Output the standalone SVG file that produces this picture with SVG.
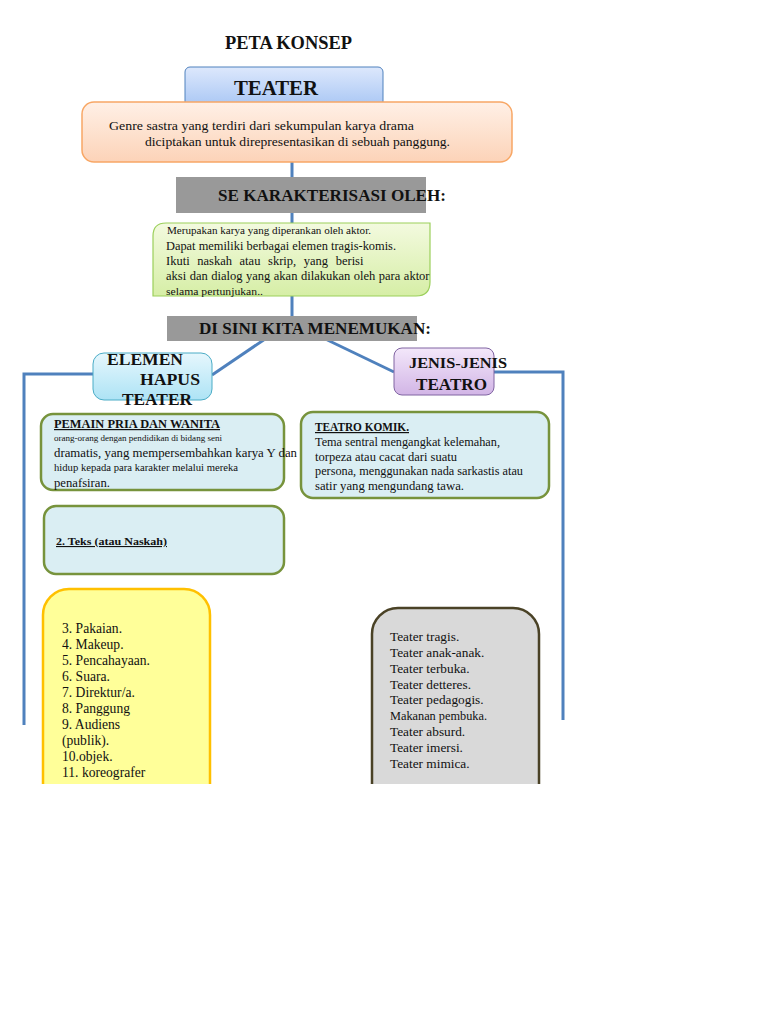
<svg xmlns="http://www.w3.org/2000/svg" width="768" height="1024" viewBox="0 0 768 1024">
<defs>
<linearGradient id="gBlue" x1="0" y1="0" x2="0" y2="1"><stop offset="0" stop-color="#dde8fc"/><stop offset="1" stop-color="#a8c6f4"/></linearGradient>
<linearGradient id="gOrange" x1="0" y1="0" x2="0" y2="1"><stop offset="0" stop-color="#fff0e6"/><stop offset="1" stop-color="#fcd3b8"/></linearGradient>
<linearGradient id="gGreen" x1="0" y1="0" x2="0" y2="1"><stop offset="0" stop-color="#f3fadf"/><stop offset="1" stop-color="#d6eea6"/></linearGradient>
<linearGradient id="gCyan" x1="0" y1="0" x2="0" y2="1"><stop offset="0" stop-color="#e6f7fd"/><stop offset="1" stop-color="#ade3f5"/></linearGradient>
<linearGradient id="gPurple" x1="0" y1="0" x2="0" y2="1"><stop offset="0" stop-color="#f3e7fa"/><stop offset="1" stop-color="#d2b5e6"/></linearGradient>
<clipPath id="pageClip"><rect x="0" y="0" width="768" height="784"/></clipPath>
</defs>
<style>
text{font-family:"Liberation Serif","Times New Roman",serif;fill:#111;}
.b{font-weight:bold;}
.u{text-decoration:underline;}
.conn{stroke:#4f81bd;stroke-width:3;fill:none;}
.hdr{fill:#999999;}
.card{fill:#daeef3;stroke:#77933c;stroke-width:2.5;}
</style>

<text x="225" y="49" class="b" font-size="18" textLength="127" lengthAdjust="spacingAndGlyphs">PETA KONSEP</text>

<g id="connectors">
<line class="conn" x1="292" y1="160" x2="292" y2="178"/>
<line class="conn" x1="292" y1="205" x2="292" y2="224"/>
<line class="conn" x1="292" y1="296" x2="292" y2="316"/>
<line class="conn" x1="271" y1="335" x2="212" y2="375"/>
<line class="conn" x1="317" y1="335" x2="394" y2="372"/>
<polyline class="conn" points="93,374 24,374 24,725"/>
<polyline class="conn" points="494,372 563,372 563,720"/>
</g>

<g id="teater">
<rect x="185" y="67" width="198" height="40" rx="5" fill="url(#gBlue)" stroke="#4f81bd" stroke-width="1"/>
<text x="234" y="95" class="b" font-size="21" textLength="84" lengthAdjust="spacingAndGlyphs">TEATER</text>
</g>

<g id="definisi">
<rect x="82" y="102" width="430" height="60" rx="12" fill="url(#gOrange)" stroke="#f8a765" stroke-width="1.5"/>
<text x="109" y="130" font-size="13.3" textLength="305" lengthAdjust="spacingAndGlyphs">Genre sastra yang terdiri dari sekumpulan karya drama</text>
<text x="145" y="146" font-size="13.3" textLength="305" lengthAdjust="spacingAndGlyphs">diciptakan untuk direpresentasikan di sebuah panggung.</text>
</g>

<g id="hdr1">
<rect class="hdr" x="176" y="177" width="250" height="36"/>
<text x="218" y="201" class="b" font-size="16.5" textLength="228" lengthAdjust="spacingAndGlyphs">SE KARAKTERISASI OLEH:</text>
</g>

<g id="ciri">
<path d="M166,223 H430 V282 Q430,296 416,296 H153 V236 Q153,223 166,223 Z" fill="url(#gGreen)" stroke="#9bcf5b" stroke-width="1.2"/>
<text x="167" y="234" font-size="11" textLength="204" lengthAdjust="spacingAndGlyphs">Merupakan karya yang diperankan oleh aktor.</text>
<text x="166" y="250" font-size="12.5" textLength="230" lengthAdjust="spacingAndGlyphs">Dapat memiliki berbagai elemen tragis-komis.</text>
<text x="166" y="265" font-size="12.5" word-spacing="4.5">Ikuti naskah atau skrip, yang berisi</text>
<text x="166" y="280" font-size="12.5" word-spacing="0.4">aksi dan dialog yang akan dilakukan oleh para aktor</text>
<text x="166" y="295" font-size="11" textLength="97" lengthAdjust="spacingAndGlyphs">selama pertunjukan..</text>
</g>

<g id="hdr2">
<rect class="hdr" x="167" y="316" width="250" height="25"/>
<text x="199" y="334" class="b" font-size="16.5" textLength="232" lengthAdjust="spacingAndGlyphs">DI SINI KITA MENEMUKAN:</text>
</g>

<g id="elemen">
<rect x="93" y="353" width="119" height="47" rx="11" fill="url(#gCyan)" stroke="#4bacc6" stroke-width="1"/>
<text x="107" y="365" class="b" font-size="16" textLength="76" lengthAdjust="spacingAndGlyphs">ELEMEN</text>
<text x="140" y="385" class="b" font-size="16" textLength="60" lengthAdjust="spacingAndGlyphs">HAPUS</text>
<text x="122" y="405" class="b" font-size="16" textLength="70" lengthAdjust="spacingAndGlyphs">TEATER</text>
</g>

<g id="jenis">
<rect x="394" y="348" width="100" height="47" rx="8" fill="url(#gPurple)" stroke="#8064a2" stroke-width="1"/>
<text x="409" y="368" class="b" font-size="15" textLength="98" lengthAdjust="spacingAndGlyphs">JENIS-JENIS</text>
<text x="416" y="390" class="b" font-size="16.5" textLength="71" lengthAdjust="spacingAndGlyphs">TEATRO</text>
</g>

<g id="pemain">
<rect class="card" x="41" y="414" width="243" height="76" rx="12"/>
<text x="54" y="428" class="b u" font-size="12" textLength="166" lengthAdjust="spacingAndGlyphs">PEMAIN PRIA DAN WANITA</text>
<text x="54" y="441" font-size="9" textLength="168" lengthAdjust="spacingAndGlyphs">orang-orang dengan pendidikan di bidang seni</text>
<text x="54" y="457" font-size="12.5" textLength="243" lengthAdjust="spacingAndGlyphs">dramatis, yang mempersembahkan karya Y dan</text>
<text x="54" y="471" font-size="9.5" textLength="184" lengthAdjust="spacingAndGlyphs">hidup kepada para karakter melalui mereka</text>
<text x="54" y="487" font-size="12" textLength="56" lengthAdjust="spacingAndGlyphs">penafsiran.</text>
</g>

<g id="komik">
<rect class="card" x="301" y="412" width="248" height="86" rx="12"/>
<text x="315" y="431" class="b u" font-size="12" textLength="94" lengthAdjust="spacingAndGlyphs">TEATRO KOMIK.</text>
<text x="315" y="446" font-size="12.5" textLength="185" lengthAdjust="spacingAndGlyphs">Tema sentral mengangkat kelemahan,</text>
<text x="315" y="461" font-size="12.5" textLength="142" lengthAdjust="spacingAndGlyphs">torpeza atau cacat dari suatu</text>
<text x="315" y="475" font-size="12.5" textLength="208" lengthAdjust="spacingAndGlyphs">persona, menggunakan nada sarkastis atau</text>
<text x="315" y="490" font-size="12.5" textLength="149" lengthAdjust="spacingAndGlyphs">satir yang mengundang tawa.</text>
</g>

<g id="teks">
<rect class="card" x="44" y="506" width="240" height="68" rx="12"/>
<text x="56" y="545" class="b u" font-size="11" textLength="111" lengthAdjust="spacingAndGlyphs">2. Teks (atau Naskah)</text>
</g>

<g clip-path="url(#pageClip)">
<g id="unsur">
<rect x="43" y="589" width="167" height="240" rx="26" fill="#ffff99" stroke="#ffc000" stroke-width="2.5"/>
<text font-size="13.6">
<tspan x="62" y="633">3. Pakaian.</tspan>
<tspan x="62" y="649">4. Makeup.</tspan>
<tspan x="62" y="665">5. Pencahayaan.</tspan>
<tspan x="62" y="681">6. Suara.</tspan>
<tspan x="62" y="697">7. Direktur/a.</tspan>
<tspan x="62" y="713">8. Panggung</tspan>
<tspan x="62" y="729">9. Audiens</tspan>
<tspan x="62" y="745">(publik).</tspan>
<tspan x="62" y="761">10.objek.</tspan>
<tspan x="62" y="777">11. koreografer</tspan>
</text>
</g>

<g id="jenislist">
<rect x="372" y="608" width="167" height="240" rx="26" fill="#d9d9d9" stroke="#4a4226" stroke-width="2.5"/>
<text font-size="13.3">
<tspan x="390" y="641">Teater tragis.</tspan>
<tspan x="390" y="657">Teater anak-anak.</tspan>
<tspan x="390" y="673">Teater terbuka.</tspan>
<tspan x="390" y="689">Teater detteres.</tspan>
<tspan x="390" y="704">Teater pedagogis.</tspan>
<tspan x="390" y="720" font-size="12.3">Makanan pembuka.</tspan>
<tspan x="390" y="736">Teater absurd.</tspan>
<tspan x="390" y="752">Teater imersi.</tspan>
<tspan x="390" y="768">Teater mimica.</tspan>
</text>
</g>
</g>
</svg>
